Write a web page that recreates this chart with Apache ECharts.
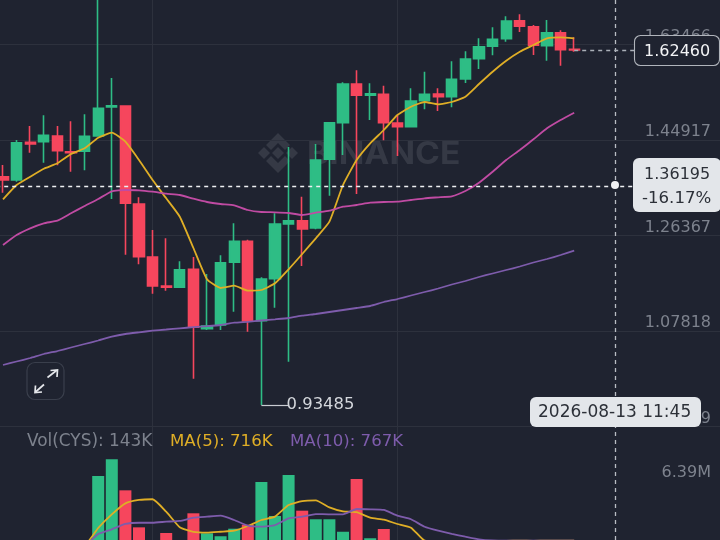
<!DOCTYPE html>
<html><head><meta charset="utf-8">
<style>html,body{margin:0;padding:0;background:#1f2330;overflow:hidden}#c{width:720px;height:540px}</style>
<script src="https://cdn.jsdelivr.net/npm/echarts@6/dist/echarts.min.js"></script>
</head><body><div id="c"></div>
<script>
// [open, close, low, high]
const candles = [
[1.37828,1.37187,1.34720,1.40100],[1.37187,1.44431,1.36856,1.44956],[1.44509,1.44179,1.42489,1.47675],[1.44626,1.45869,1.40547,1.49753],
[1.45733,1.42878,1.40042,1.47675],[1.42683,1.42489,1.38799,1.48588],[1.42761,1.45674,1.39071,1.49948],[1.45733,1.51113,1.45733,1.73000],
[1.51365,1.51618,1.33496,1.56998],[1.51560,1.32661,1.22678,1.51696],[1.32525,1.22289,1.20813,1.33826],[1.22231,1.16598,1.15103,1.27475],
[1.16598,1.16346,1.15685,1.25863],[1.16346,1.19764,1.16210,1.21396],[1.19842,1.08577,0.98593,1.22231],[1.08305,1.08829,1.08052,1.18929],
[1.09023,1.21124,1.08052,1.22561],[1.21201,1.25280,1.11606,1.28776],[1.25280,1.09800,1.07722,1.25591],[1.09858,1.17958,0.93485,1.18288],
[1.18016,1.28640,1.12383,1.30719],[1.28640,1.29281,1.01895,1.43596],[1.29281,1.27669,1.20483,1.33943],[1.27864,1.41071,1.27611,1.44179],
[1.41207,1.48316,1.34137,1.48452],[1.48316,1.55833,1.42042,1.56163],[1.55833,1.53638,1.34467,1.58494],[1.53638,1.53949,1.48840,1.55969],
[1.53832,1.48316,1.44898,1.55503],[1.48258,1.47539,1.41848,1.49812],[1.47539,1.52531,1.47539,1.54997],[1.52589,1.53832,1.50919,1.58222],
[1.53890,1.53366,1.50588,1.54997],[1.53366,1.56746,1.51307,1.60242],[1.56804,1.60688,1.56027,1.62184],[1.60747,1.63077,1.58746,1.64709],
[1.63155,1.64515,1.61407,1.66846],[1.64631,1.68069,1.64049,1.68982],[1.68127,1.67040,1.65933,1.69370],[1.66962,1.63349,1.61465,1.67292],
[1.63272,1.65797,1.60358,1.68263],[1.65797,1.62495,1.59387,1.66263],[1.62572,1.62460,1.62106,1.64903]];
const ma5 = [1.33438,1.36215,1.37828,1.39381,1.40430,1.42237,1.43344,1.45403,1.46374,1.44626,1.41071,1.37187,1.33632,1.30058,1.23979,1.17900,1.16210,1.16656,1.15685,1.15821,1.17123,1.19842,1.22814,1.25863,1.29087,1.36215,1.41071,1.44315,1.46898,1.49812,1.51424,1.52337,1.51890,1.52337,1.53366,1.55833,1.58222,1.60358,1.62106,1.63408,1.64709,1.64903,1.64709];
const ma20 = [1.24562,1.26504,1.27805,1.28776,1.29281,1.30719,1.32137,1.33496,1.34992,1.35244,1.35186,1.34914,1.34526,1.34273,1.33554,1.32914,1.32525,1.32273,1.31360,1.30971,1.30913,1.30777,1.30389,1.30835,1.31224,1.32001,1.32331,1.32778,1.32914,1.32972,1.33302,1.33632,1.33826,1.34022,1.35050,1.36662,1.38799,1.41071,1.43013,1.45092,1.47228,1.48840,1.50258];
const ma50 = [1.01254,1.01934,1.02614,1.03391,1.03973,1.04653,1.05333,1.06013,1.06751,1.07275,1.07605,1.07916,1.08149,1.08382,1.08596,1.08790,1.09023,1.09469,1.09645,1.09897,1.10130,1.10383,1.10829,1.11160,1.11548,1.11937,1.12325,1.12714,1.13491,1.14073,1.14753,1.15433,1.16113,1.16890,1.17569,1.18346,1.19026,1.19706,1.20386,1.21163,1.21842,1.22619,1.23455];
const volumes = [0.50,0.60,0.40,0.55,0.45,0.60,0.70,6.87,8.46,5.50,1.97,0.70,1.43,0.70,3.31,1.40,1.12,1.84,2.22,6.30,3.05,6.96,3.56,2.74,2.74,1.55,6.58,0.93,1.81,0.70,0.60,0.65,0.55,0.70,0.65,0.60,0.70,0.50,0.60,0.65,0.70,0.68,0.143];
const volMa5 = [0.35,0.32,0.30,0.30,0.32,0.35,0.29,1.91,3.21,4.26,4.58,4.65,3.46,1.97,1.53,1.46,1.55,1.65,2.10,2.67,2.99,4.10,4.48,4.55,3.88,3.50,3.41,2.89,2.70,2.29,1.94,0.70,0.65,0.60,0.60,0.62,0.65,0.68,0.70,0.68,0.70,0.70,0.70];
const volMa10 = [0.30,0.30,0.30,0.30,0.30,0.30,0.29,1.34,1.78,2.29,2.41,2.41,2.51,2.58,2.89,2.99,3.08,2.67,2.13,2.03,2.19,2.83,2.99,3.24,3.21,3.21,3.72,3.69,3.63,3.08,2.74,2.03,1.65,1.34,1.08,0.83,0.72,0.70,0.70,0.70,0.70,0.70,0.70];
const priceTicks = [0.89269,1.07818,1.26367,1.44917,1.63466];
const verticalGridAt = ['11','29'];
const crosshairIndex = '45', crosshairPrice = 1.36195, lastPrice = 1.6246, lowPoint = ['19','21',0.93485];
const categories = Array.from({length:54},(_,i)=>String(i));

const UP='#2ebd85', DOWN='#f6465d', YEL='#dfae26', PINK='#c04ba3', PUR='#7e5cac', GRAY='#7d828d';
const FF='"DejaVu Sans"', FS=16;
const TXT=FS+'px '+FF, TXT2='16.6px '+FF;
const volBars = volumes.map((v,i)=>({value:v,itemStyle:{color:candles[i][1]>=candles[i][0]?UP:DOWN}}));
const lineS=(name,data,color,x,y,w)=>({name,type:'line',data,xAxisIndex:x,yAxisIndex:y,showSymbol:false,smooth:0.15,z:3,
  lineStyle:{color,width:w||1.8},itemStyle:{color},silent:true});
const dash=(c)=>({color:c,width:1.3,type:[4,4]});
const poly=(points)=>({type:'polygon',z:0,silent:true,shape:{points},style:{fill:'#353945'}});
const arrow=(points)=>({type:'polyline',z:6,silent:true,shape:{points},style:{fill:'none',stroke:'#e4e6ea',lineWidth:1.7}});

const chart = echarts.init(document.getElementById('c'),null,{renderer:'canvas'});
chart.setOption({
 animation:false, backgroundColor:'#1f2330',
 grid:[{left:-3.8,width:734.4,top:-8,height:556,outerBoundsMode:'none'},{left:-3.8,width:734.4,top:414,height:134,outerBoundsMode:'none'}],
 xAxis:[{type:'category',data:categories,gridIndex:0,show:false},{type:'category',data:categories,gridIndex:1,show:false}],
 yAxis:[{type:'value',gridIndex:0,min:0.6571,max:1.73702,position:'right',
   axisLine:{show:false},axisTick:{show:false,customValues:priceTicks},
   splitLine:{show:true,lineStyle:{color:'#2d313d',width:1}},
   axisLabel:{inside:true,margin:19.6,customValues:priceTicks,color:GRAY,fontFamily:'DejaVu Sans',fontSize:FS,align:'right',verticalAlign:'bottom',
     formatter:v=>v.toFixed(5)}},
  {type:'value',gridIndex:1,min:0,max:12.78,interval:6.39,position:'right',axisLine:{show:false},axisTick:{show:false},splitLine:{show:false},
   axisLabel:{inside:true,margin:19.6,color:GRAY,fontFamily:'DejaVu Sans',fontSize:FS,align:'right',verticalAlign:'bottom',
     formatter:v=>Math.abs(v-6.39)<0.01?'6.39M':''}}],
 series:[
  {type:'line',data:[],xAxisIndex:0,yAxisIndex:0,silent:true,z:1,
   markLine:{silent:true,symbol:'none',z:1,animation:false,label:{show:false},lineStyle:{color:'#2d313d',width:1,type:'solid'},
     data:verticalGridAt.map(c=>({xAxis:c}))}},
  {type:'candlestick',data:candles,xAxisIndex:0,yAxisIndex:0,barWidth:10.6,z:2,silent:true,
   itemStyle:{color:UP,color0:DOWN,borderColor:UP,borderColor0:DOWN,borderWidth:1.6}},
  lineS('MA5',ma5,YEL,0,0),lineS('MA20',ma20,PINK,0,0),lineS('MA50',ma50,PUR,0,0),
  {type:'bar',data:volBars,xAxisIndex:1,yAxisIndex:1,barWidth:12,z:2,silent:true},
  lineS('VolMA5',volMa5,YEL,1,1),lineS('VolMA10',volMa10,PUR,1,1),
  {type:'line',data:[],xAxisIndex:0,yAxisIndex:0,silent:true,z:10,
   markLine:{silent:true,symbol:'none',z:10,animation:false,label:{show:false},
     data:[
      {xAxis:crosshairIndex,lineStyle:dash('#b9bdc4')},
      {yAxis:crosshairPrice,lineStyle:dash('#eef0f2')},
      [{coord:['42',lastPrice],lineStyle:dash('#aab0b8')},{coord:['53',lastPrice]}],
      [{coord:[lowPoint[0],lowPoint[2]],lineStyle:{color:'#c9ccd2',width:1.2,type:'solid'},
        label:{show:true,position:'end',formatter:lowPoint[2].toFixed(5),color:'#d4d7dc',fontFamily:'DejaVu Sans',fontSize:16.4,distance:-2}},
       {coord:[lowPoint[1],lowPoint[2]]}]
     ]},
   markPoint:{silent:true,z:11,animation:false,symbol:'circle',symbolSize:8,itemStyle:{color:'#f0f1f3'},label:{show:false},
     data:[{coord:[crosshairIndex,crosshairPrice]}]}}
 ],
 graphic:[
  // watermark logo
  poly([[278,133],[290,145],[285,150],[278,143],[271,150],[266,145]]),
  poly([[258,153],[264,147],[270,153],[264,159]]),
  poly([[286,153],[292,147],[298,153],[292,159]]),
  poly([[272,153],[278,147],[284,153],[278,159]]),
  poly([[278,173],[290,161],[285,156],[278,163],[271,156],[266,161]]),
  {type:'text',x:307,y:139,scaleX:1.085,z:0,silent:true,style:{text:'BINANCE',font:'700 31px "Inter"',fill:'#353945'}},
  // expand button
  {type:'rect',shape:{x:27,y:362.5,width:37,height:37,r:8},style:{fill:'#1f2330',stroke:'#3a3f4c',lineWidth:1.2},z:5,silent:true},
  arrow([[47.5,377.5],[56.5,370.5]]),arrow([[50.5,370.5],[57.5,370],[57,377]]),
  arrow([[44,384.5],[35.5,392]]),arrow([[35.5,385.5],[35,392.5],[42,392]]),
  // volume legend
  {type:'text',left:27,top:433,z:20,style:{text:'Vol(CYS): 143K',font:'16.9px '+FF,fill:GRAY}},
  {type:'text',left:170,top:433,z:20,style:{text:'MA(5): 716K',font:TXT2,fill:YEL}},
  {type:'text',left:290,top:433,z:20,style:{text:'MA(10): 767K',font:TXT2,fill:PUR}},
  // last price box
  {type:'rect',z:30,shape:{x:634.5,y:35.5,width:85,height:30,r:6},style:{fill:'#1f2330',stroke:'#b0b4bb',lineWidth:1.1}},
  {type:'text',z:31,left:644,top:44,style:{text:'1.62460',font:TXT,fill:'#f3f4f6'}},
  // crosshair box
  {type:'rect',z:30,shape:{x:633,y:158,width:88,height:54,r:6},style:{fill:'#e3e6ea'}},
  {type:'text',z:31,left:644,top:167,style:{text:'1.36195',font:TXT,fill:'#2c3038'}},
  {type:'text',z:31,left:642,top:190,style:{text:'-16.17%',font:'16.6px '+FF,fill:'#2c3038'}},
  // date box
  {type:'rect',z:30,shape:{x:530,y:397,width:171,height:30,r:6},style:{fill:'#e3e6ea'}},
  {type:'text',z:31,left:538,top:404,style:{text:'2026-08-13 11:45',font:'17px '+FF,fill:'#2c3038'}}
 ]
});
</script></body></html>
